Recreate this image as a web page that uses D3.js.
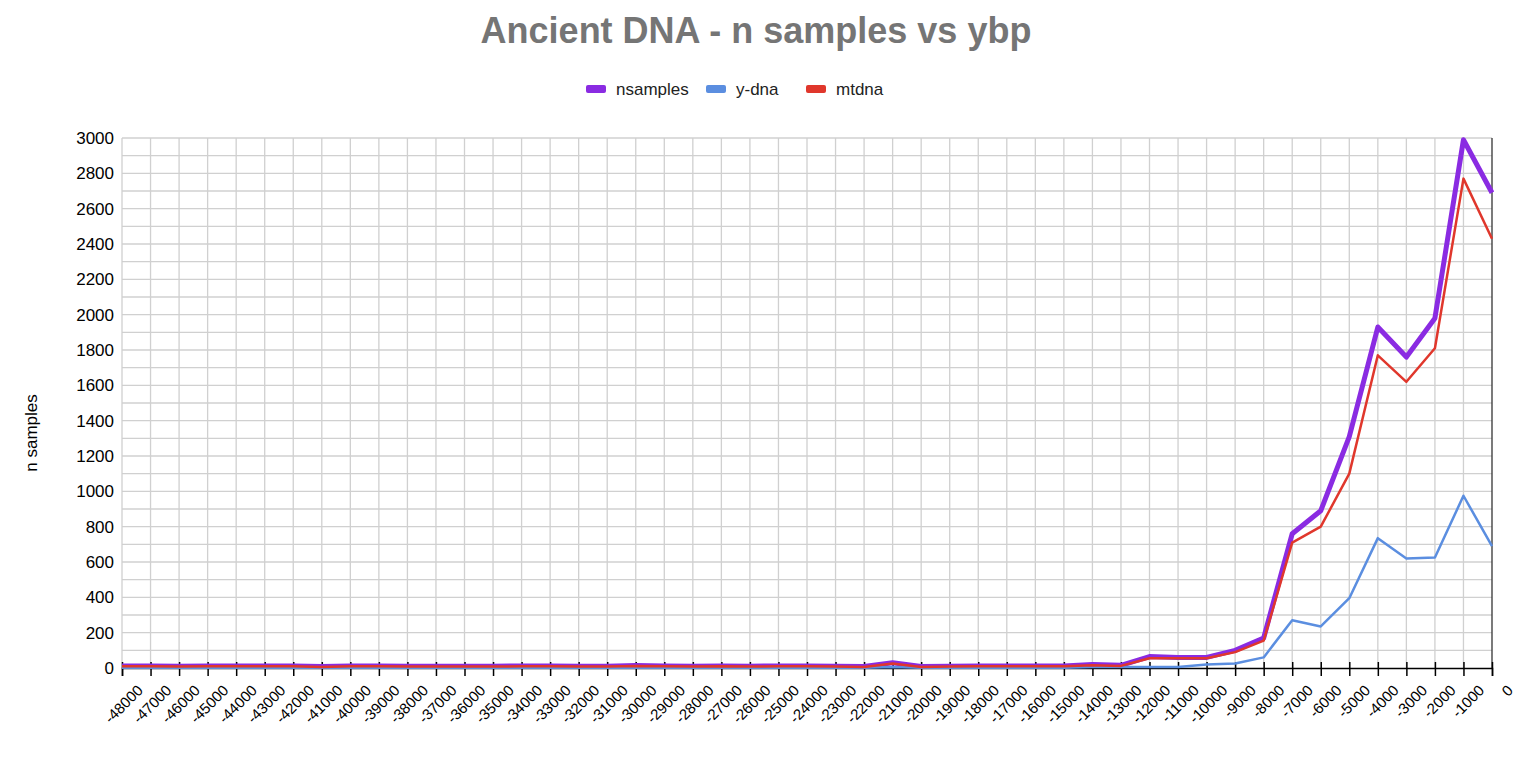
<!DOCTYPE html>
<html>
<head>
<meta charset="utf-8">
<script src="https://cdn.jsdelivr.net/npm/d3@7"></script>
<style>
  body { margin: 0; background: #fff; font-family: Arial, 'Liberation Sans', sans-serif; }
</style>
</head>
<body>
<svg id="chart" width="1536" height="759"></svg>
<script>
// years before present, one point every 1000 years
const years = d3.range(-48000, 1, 1000)

const nsamples = [12, 12, 10, 12, 12, 12, 12, 8, 12, 12, 10, 10, 10, 10, 12, 12, 10, 10, 14, 12, 10, 12, 10, 12, 12, 10, 8, 30, 8, 10, 12, 12, 12, 12, 20, 15,
  65, 60, 60, 100, 170, 760, 890, 1310, 1930, 1760, 1980, 2990, 2690]
const ydna = [2, 2, 2, 2, 2, 2, 2, 2, 2, 2, 2, 2, 2, 2, 2, 2, 2, 2, 2, 2, 2, 2, 2, 2, 2, 2, 2, 5, 2, 2, 2, 2, 2, 2, 5, 5,
  5, 5, 20, 25, 60, 270, 235, 395, 735, 620, 625, 975, 690]
const mtdna = [10, 10, 8, 10, 10, 10, 10, 6, 10, 10, 8, 8, 8, 8, 10, 10, 8, 8, 12, 10, 8, 10, 8, 10, 10, 8, 6, 25, 6, 8, 10, 10, 10, 10, 15, 12,
  55, 55, 55, 90, 155, 710, 800, 1100, 1770, 1620, 1810, 2770, 2430]

const series = [
  { name: 'nsamples', values: nsamples, color: '#8a2be2', width: 5 },
  { name: 'y-dna', values: ydna, color: '#5b8ee0', width: 2.5 },
  { name: 'mtdna', values: mtdna, color: '#e0372c', width: 2.5 },
]

let margin = { top: 138, right: 44, bottom: 91, left: 122 }
let width = 1536 - margin.left - margin.right
let height = 759 - margin.top - margin.bottom

let svg = d3.select('#chart')
let g = svg.append('g').attr('transform', `translate(${margin.left},${margin.top})`)

let xScale = d3.scaleLinear().domain([-48000, 0]).range([0, width])
let yScale = d3.scaleLinear().domain([0, 3000]).range([height, 0])

// grid
g.append('g')
  .selectAll('line')
  .data(d3.range(100, 3001, 100))
  .enter()
  .append('line')
  .attr('x1', 0).attr('x2', width)
  .attr('y1', (d) => yScale(d)).attr('y2', (d) => yScale(d))
  .attr('stroke', '#d0d0d0').attr('stroke-width', 1.3)

g.append('g')
  .selectAll('line')
  .data(years)
  .enter()
  .append('line')
  .attr('x1', (d) => xScale(d)).attr('x2', (d) => xScale(d))
  .attr('y1', 0).attr('y2', height)
  .attr('stroke', (d) => (d === 0 ? '#333' : '#d0d0d0'))
  .attr('stroke-width', 1.3)

// y axis labels
let yAxis = d3.axisLeft(yScale).tickValues(d3.range(0, 3001, 200)).tickSize(0).tickPadding(8).tickFormat(d3.format('d'))
g.append('g').call(yAxis)
  .call((a) => a.select('.domain').remove())
  .selectAll('text').style('font-size', '17px').attr('fill', '#000')

// x axis
let xAxis = d3.axisBottom(xScale).tickValues(years).tickSize(8).tickFormat((d) => d)
let xg = g.append('g').attr('transform', `translate(0,${height})`).call(xAxis)
xg.select('.domain').attr('stroke', '#000').attr('stroke-width', 1.5)
xg.selectAll('.tick line').attr('stroke', '#000').attr('stroke-width', 1.5).attr('y1', -6)
xg.selectAll('text')
  .style('font-size', '15px').attr('fill', '#000')
  .attr('text-anchor', 'end')
  .attr('transform', 'translate(6, 8) rotate(-45)')

// lines
let line = d3.line().x((d, i) => xScale(years[i])).y((d) => yScale(d))
series.forEach((s) => {
  g.append('path')
    .datum(s.values)
    .attr('d', line)
    .attr('fill', 'none')
    .attr('stroke', s.color)
    .attr('stroke-width', s.width)
    .attr('stroke-linejoin', 'round')
})

// title
svg.append('text')
  .text('Ancient DNA - n samples vs ybp')
  .attr('x', 756).attr('y', 43)
  .attr('text-anchor', 'middle')
  .style('font-size', '36px').style('font-weight', 'bold').attr('fill', '#757575')

// y label
svg.append('text')
  .text('n samples')
  .attr('transform', 'translate(37, 433) rotate(-90)')
  .attr('text-anchor', 'middle')
  .style('font-size', '17px')

// legend
let legendX = [586, 706, 806]
series.forEach((s, i) => {
  let lg = svg.append('g').attr('transform', `translate(${legendX[i]}, 89)`)
  lg.append('rect').attr('x', 0).attr('y', -4).attr('width', 20).attr('height', 8).attr('rx', 2).attr('fill', s.color)
  lg.append('text').text(s.name).attr('x', 30).attr('y', 6).style('font-size', '17px').attr('fill', '#222')
})
</script>
</body>
</html>
